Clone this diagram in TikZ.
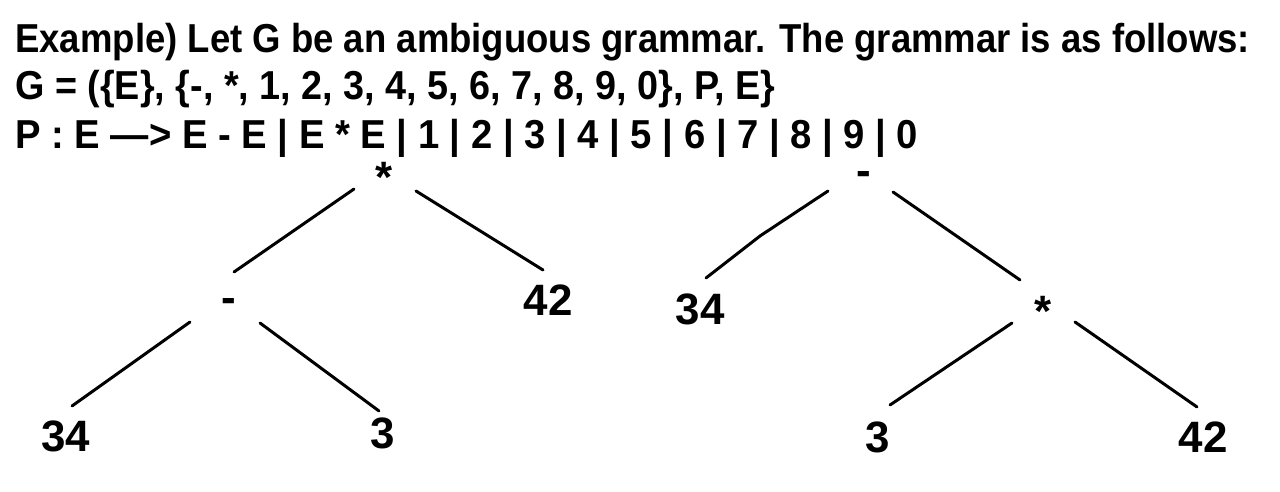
\documentclass[tikz,border=0pt]{standalone}
\usepackage{fontspec}
\setmainfont{Liberation Sans}
\begin{document}
\begin{tikzpicture}[x=0.02cm,y=-0.02cm,
  txt/.style={font=\bfseries\fontsize{23}{27}\selectfont,anchor=base west,inner sep=0pt},
  lbl/.style={font=\bfseries\fontsize{25}{28}\selectfont,inner sep=0pt},
  edge/.style={line width=1.7pt,line cap=round}]
\useasboundingbox[fill=white] (0,0) rectangle (1280,492);
\node[txt] (t1) at (15,53) {\resizebox{24.7cm}{\height}{Example) Let G be an ambiguous grammar. The grammar is as follows:}};
\node[txt] (t2) at (15,100) {\resizebox{15.2cm}{\height}{G = (\{E\}, \{-, *, 1, 2, 3, 4, 5, 6, 7, 8, 9, 0\}, P, E\}}};
\node[txt] (t3) at (15,149) {\resizebox{18.06cm}{\height}{P : E —> E - E | E * E | 1 | 2 | 3 | 4 | 5 | 6 | 7 | 8 | 9 | 0}};
% left tree
\node[lbl] (lstar) at (384,177) {*};
\node[lbl] (lminus) at (229,306) {-};
\node[lbl] (l42) at (548,300) {42};
\node[lbl] (l34) at (66,436) {34};
\node[lbl] (l3) at (383,433) {3};
\draw[edge] ([shift={(-30,12)}]lstar.center) -- ([shift={(5,-34)}]lminus.center);
\draw[edge] ([shift={(32,14)}]lstar.center) -- ([shift={(-5,-30)}]l42.center);
\draw[edge] ([shift={(-39,16)}]lminus.center) -- ([shift={(6,-30)}]l34.center);
\draw[edge] ([shift={(31,17)}]lminus.center) -- ([shift={(-4,-22)}]l3.center);
% right tree
\node[lbl] (rminus) at (864,179) {-};
\node[lbl] (r34) at (700,309) {34};
\node[lbl] (rstar) at (1043,311) {*};
\node[lbl] (r3) at (878,437) {3};
\node[lbl] (r42) at (1203,437) {42};
\draw[edge] ([shift={(-36,12)}]rminus.center) -- ([shift={(-104,57)}]rminus.center) -- ([shift={(6,-31)}]r34.center);
\draw[edge] ([shift={(29,13)}]rminus.center) -- ([shift={(-23,-31)}]rstar.center);
\draw[edge] ([shift={(-31,12)}]rstar.center) -- ([shift={(12,-32)}]r3.center);
\draw[edge] ([shift={(32,11)}]rstar.center) -- ([shift={(-6,-30)}]r42.center);
\end{tikzpicture}
\end{document}
